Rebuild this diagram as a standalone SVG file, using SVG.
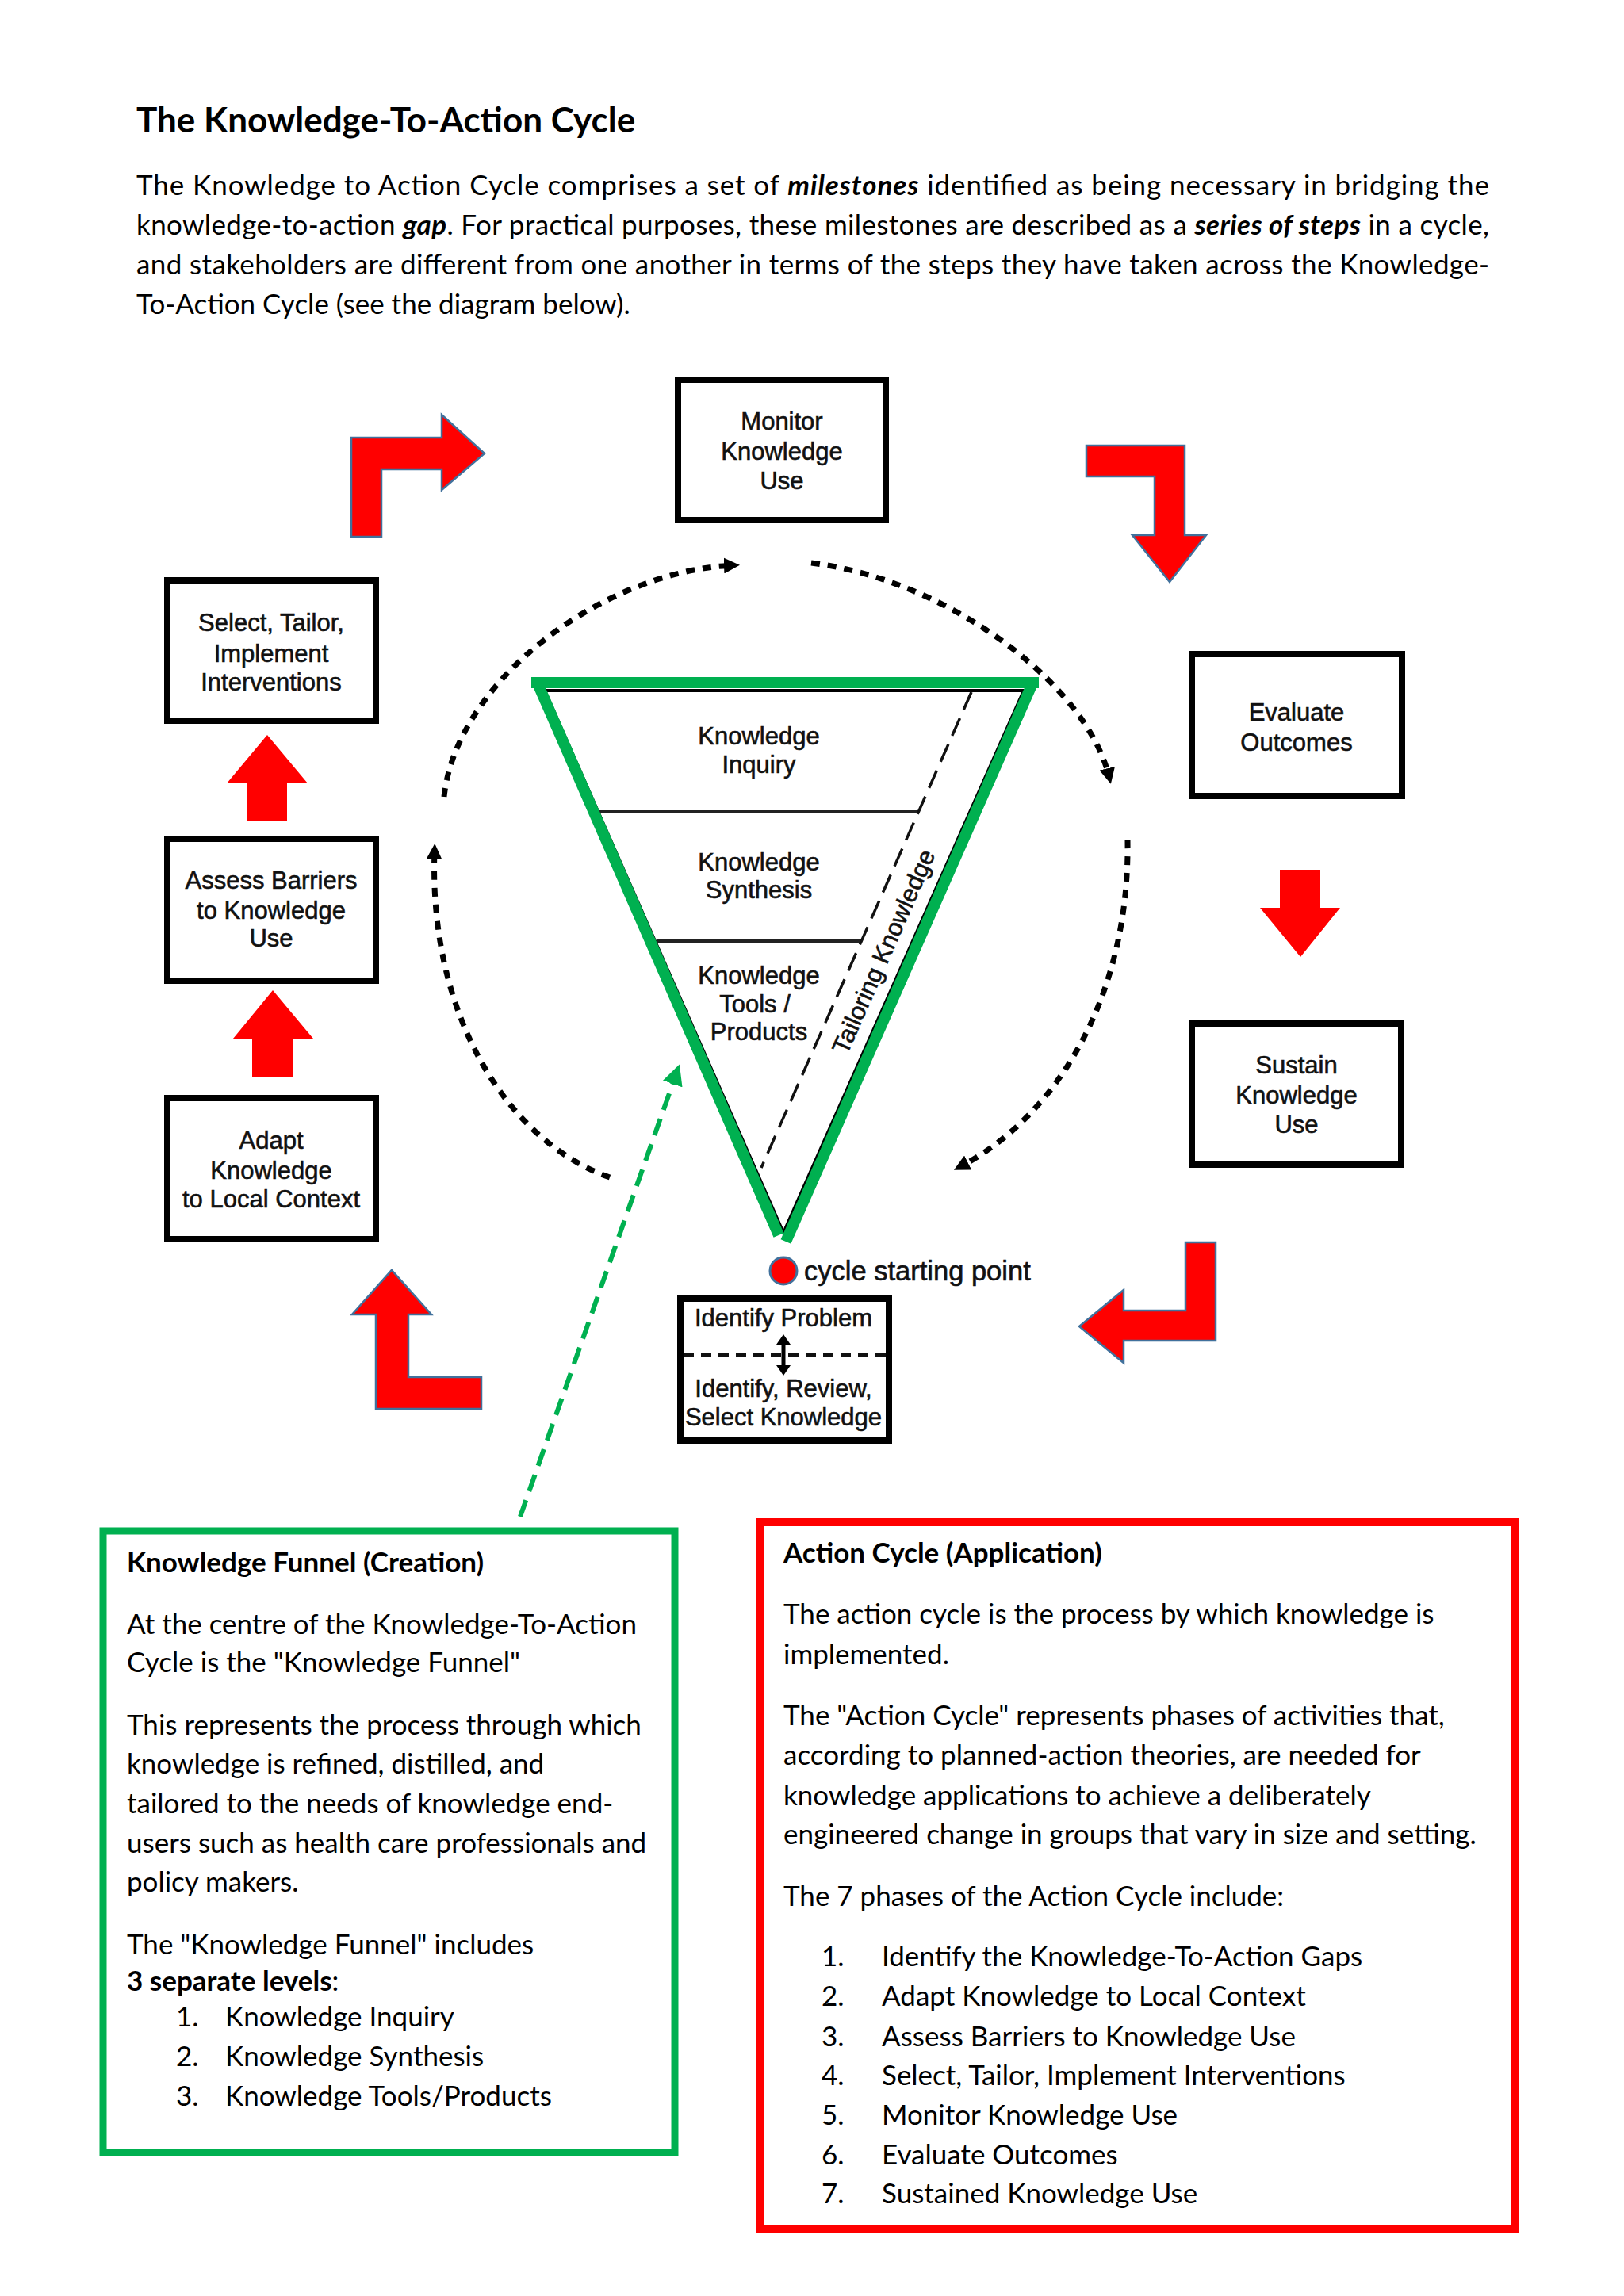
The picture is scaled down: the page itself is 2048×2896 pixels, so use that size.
<svg xmlns="http://www.w3.org/2000/svg" width="2048" height="2896" viewBox="0 0 2048 2896">
<defs>
<style>
.bx{fill:#fff;stroke:#000;stroke-width:8}
.bt{font-family:"Liberation Sans",Arial,sans-serif;font-size:31px;text-anchor:middle;fill:#111;stroke:#111;stroke-width:0.6}
.body{font-family:Lato,"Liberation Sans",sans-serif;font-size:35px;fill:#000}
.bold{font-weight:bold}
.bi{font-weight:bold;font-style:italic}
.dots{fill:none;stroke:#000;stroke-width:7;stroke-dasharray:11 10}
.red{fill:#FF0000;stroke:#41719C;stroke-width:2.5}
.rednos{fill:#FF0000}
</style>
<marker id="dotArrow" markerUnits="userSpaceOnUse" viewBox="0 0 10 10" refX="6" refY="5" markerWidth="20" markerHeight="20" orient="auto"><path d="M0,0 L10,5 L0,10 z" fill="#000"/></marker>
<marker id="gArrow" markerUnits="userSpaceOnUse" viewBox="0 0 10 10" refX="9" refY="5" markerWidth="26" markerHeight="26" orient="auto"><path d="M0,0 L10,5 L0,10 z" fill="#00B050"/></marker>
</defs>
<rect width="2048" height="2896" fill="#fff"/>

<g id="header">
<text x="172" y="167" class="body bold" style="font-size:44px">The Knowledge-To-Action Cycle</text>
<text x="172" y="246" class="body" textLength="1706" lengthAdjust="spacing">The Knowledge to Action Cycle comprises a set of <tspan class="bi">milestones</tspan> identified as being necessary in bridging the</text>
<text x="172" y="296" class="body" textLength="1706" lengthAdjust="spacing">knowledge-to-action <tspan class="bi">gap</tspan>. For practical purposes, these milestones are described as a <tspan class="bi">series of steps</tspan> in a cycle,</text>
<text x="172" y="346" class="body" textLength="1706" lengthAdjust="spacing">and stakeholders are different from one another in terms of the steps they have taken across the Knowledge-</text>
<text x="172" y="396" class="body">To-Action Cycle (see the diagram below).</text>
</g>

<g id="connectors">
<path class="dots" d="M560,1005 C575,860 760,720 925,713" marker-end="url(#dotArrow)"/>
<path class="dots" d="M1023,710 C1190,730 1370,860 1399,981" marker-end="url(#dotArrow)"/>
<path class="dots" d="M1422,1059 C1425,1260 1330,1410 1210,1472" marker-end="url(#dotArrow)"/>
<path class="dots" d="M769,1485 C640,1440 540,1280 548,1072" marker-end="url(#dotArrow)"/>
<polygon class="red" points="443,677 443,552 557,552 557,523 611,572 557,618 557,592 481,592 481,677"/>
<polygon class="red" points="1370,562 1494,562 1494,675 1521,675 1475,734 1428,675 1456,675 1456,601 1370,601"/>
<polygon class="rednos" points="1614,1097 1665,1097 1665,1145 1690,1145 1640,1207 1589,1145 1614,1145"/>
<polygon class="red" points="1495,1567 1533,1567 1533,1691 1417,1691 1417,1719 1361,1673 1417,1627 1417,1653 1495,1653"/>
<polygon class="red" points="494,1602 544,1658 515,1658 515,1737 607,1737 607,1777 474,1777 474,1658 444,1658"/>
<polygon class="rednos" points="337,927 388,988 362,988 362,1035 311,1035 311,988 286,988"/>
<polygon class="rednos" points="344,1249 395,1310 370,1310 370,1359 318,1359 318,1310 294,1310"/>
<path d="M656,1913 L856,1345" fill="none" stroke="#00B050" stroke-width="6" stroke-dasharray="22 12" marker-end="url(#gArrow)"/>
</g>

<g id="funnel">
<polygon points="687,871 1291,871 988,1555" fill="#fff" stroke="#000" stroke-width="4"/>
<line x1="756" y1="1024" x2="1159" y2="1024" stroke="#222" stroke-width="4"/>
<line x1="828" y1="1187" x2="1086" y2="1187" stroke="#222" stroke-width="4"/>
<line x1="1225" y1="873" x2="960" y2="1473" stroke="#111" stroke-width="3.5" stroke-dasharray="24 12"/>
<path d="M670,861 H1310 M678,862 L982,1558 M1302,862 L991,1566" fill="none" stroke="#00B050" stroke-width="14"/>
<text class="bt" x="957" y="939">Knowledge</text>
<text class="bt" x="957" y="975">Inquiry</text>
<text class="bt" x="957" y="1098">Knowledge</text>
<text class="bt" x="957" y="1133">Synthesis</text>
<text class="bt" x="957" y="1241">Knowledge</text>
<text class="bt" x="952" y="1277">Tools /</text>
<text class="bt" x="957" y="1312">Products</text>
<text class="bt" transform="translate(1114,1200) rotate(-66.2)" y="11">Tailoring Knowledge</text>
</g>

<g id="node-monitor">
<rect class="bx" x="855" y="479" width="262" height="177"/>
<text class="bt" x="986" y="542">Monitor</text>
<text class="bt" x="986" y="580">Knowledge</text>
<text class="bt" x="986" y="617">Use</text>
</g>
<g id="node-select">
<rect class="bx" x="211" y="732" width="263" height="177"/>
<text class="bt" x="342" y="796">Select, Tailor,</text>
<text class="bt" x="342" y="835">Implement</text>
<text class="bt" x="342" y="871">Interventions</text>
</g>
<g id="node-assess">
<rect class="bx" x="211" y="1058" width="263" height="179"/>
<text class="bt" x="342" y="1121">Assess Barriers</text>
<text class="bt" x="342" y="1159">to Knowledge</text>
<text class="bt" x="342" y="1194">Use</text>
</g>
<g id="node-adapt">
<rect class="bx" x="211" y="1385" width="263" height="178"/>
<text class="bt" x="342" y="1449">Adapt</text>
<text class="bt" x="342" y="1487">Knowledge</text>
<text class="bt" x="342" y="1523">to Local Context</text>
</g>
<g id="node-evaluate">
<rect class="bx" x="1503" y="825" width="265" height="179"/>
<text class="bt" x="1635" y="909">Evaluate</text>
<text class="bt" x="1635" y="947">Outcomes</text>
</g>
<g id="node-sustain">
<rect class="bx" x="1503" y="1291" width="264" height="178"/>
<text class="bt" x="1635" y="1354">Sustain</text>
<text class="bt" x="1635" y="1392">Knowledge</text>
<text class="bt" x="1635" y="1429">Use</text>
</g>
<g id="node-start">
<circle cx="988" cy="1603" r="17" fill="#FF0000" stroke="#41719C" stroke-width="3"/>
<text x="1014" y="1615" style="font-family:'Liberation Sans',Arial,sans-serif;font-size:34.5px;fill:#111;stroke:#111;stroke-width:0.6">cycle starting point</text>
</g>
<g id="node-identify">
<rect class="bx" x="858" y="1638" width="263" height="179"/>
<line x1="862" y1="1709" x2="1117" y2="1709" stroke="#111" stroke-width="5" stroke-dasharray="13 9"/>
<rect x="985.5" y="1692" width="5" height="34" fill="#000"/>
<polygon points="988,1683 979,1696 997,1696" fill="#000"/>
<polygon points="988,1735 979,1722 997,1722" fill="#000"/>
<text class="bt" x="988" y="1673">Identify Problem</text>
<text class="bt" x="988" y="1762">Identify, Review,</text>
<text class="bt" x="988" y="1798">Select Knowledge</text>
</g>

<g id="node-funnel-info">
<rect x="130" y="1931" width="721" height="784" fill="#fff" stroke="#00B050" stroke-width="9"/>
<text class="body bold" x="160" y="1983">Knowledge Funnel (Creation)</text>
<text class="body" x="160" y="2061">At the centre of the Knowledge-To-Action</text>
<text class="body" x="160" y="2109">Cycle is the "Knowledge Funnel"</text>
<text class="body" x="160" y="2188">This represents the process through which</text>
<text class="body" x="160" y="2237">knowledge is refined, distilled, and</text>
<text class="body" x="160" y="2287">tailored to the needs of knowledge end-</text>
<text class="body" x="160" y="2337">users such as health care professionals and</text>
<text class="body" x="160" y="2386">policy makers.</text>
<text class="body" x="160" y="2465">The "Knowledge Funnel" includes</text>
<text class="body" x="160" y="2511"><tspan class="bold">3 separate levels</tspan>:</text>
<text class="body" x="222" y="2556">1.</text><text class="body" x="284" y="2556">Knowledge Inquiry</text>
<text class="body" x="222" y="2606">2.</text><text class="body" x="284" y="2606">Knowledge Synthesis</text>
<text class="body" x="222" y="2656">3.</text><text class="body" x="284" y="2656">Knowledge Tools/Products</text>
</g>

<g id="node-action-info">
<rect x="958" y="1920" width="953" height="891" fill="#fff" stroke="#FF0000" stroke-width="10"/>
<text class="body bold" x="988" y="1971">Action Cycle (Application)</text>
<text class="body" x="988" y="2048">The action cycle is the process by which knowledge is</text>
<text class="body" x="988" y="2099">implemented.</text>
<text class="body" x="988" y="2176">The "Action Cycle" represents phases of activities that,</text>
<text class="body" x="988" y="2226">according to planned-action theories, are needed for</text>
<text class="body" x="988" y="2277">knowledge applications to achieve a deliberately</text>
<text class="body" x="988" y="2326">engineered change in groups that vary in size and setting.</text>
<text class="body" x="988" y="2404">The 7 phases of the Action Cycle include:</text>
<text class="body" x="1036" y="2480">1.</text><text class="body" x="1112" y="2480">Identify the Knowledge-To-Action Gaps</text>
<text class="body" x="1036" y="2530">2.</text><text class="body" x="1112" y="2530">Adapt Knowledge to Local Context</text>
<text class="body" x="1036" y="2581">3.</text><text class="body" x="1112" y="2581">Assess Barriers to Knowledge Use</text>
<text class="body" x="1036" y="2630">4.</text><text class="body" x="1112" y="2630">Select, Tailor, Implement Interventions</text>
<text class="body" x="1036" y="2680">5.</text><text class="body" x="1112" y="2680">Monitor Knowledge Use</text>
<text class="body" x="1036" y="2730">6.</text><text class="body" x="1112" y="2730">Evaluate Outcomes</text>
<text class="body" x="1036" y="2779">7.</text><text class="body" x="1112" y="2779">Sustained Knowledge Use</text>
</g>
</svg>
